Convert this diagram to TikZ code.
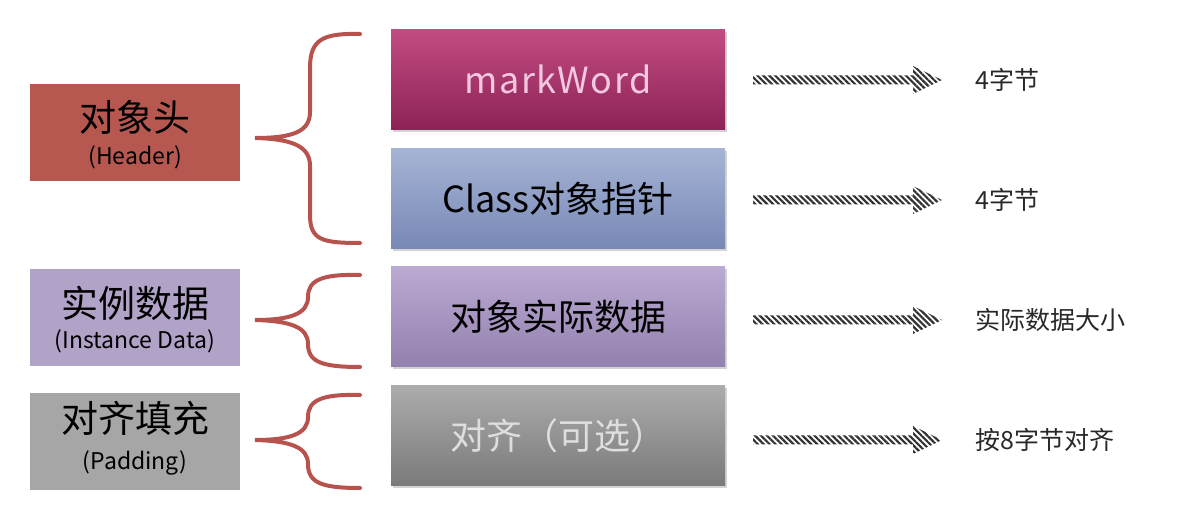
\documentclass[tikz,border=0pt]{standalone}
\usepackage{fontspec}
\setmainfont{Noto Sans CJK SC}
\usetikzlibrary{patterns.meta,shadows}
\definecolor{hdrred}{RGB}{182,88,80}
\definecolor{instpur}{RGB}{177,163,200}
\definecolor{padgray}{RGB}{166,166,166}
\definecolor{bracered}{RGB}{184,82,76}
\definecolor{mwtop}{RGB}{194,76,130}
\definecolor{mwbot}{RGB}{140,34,86}
\definecolor{mwtext}{RGB}{244,200,222}
\definecolor{clstop}{RGB}{166,180,212}
\definecolor{clsbot}{RGB}{120,136,182}
\definecolor{dattop}{RGB}{186,170,210}
\definecolor{datbot}{RGB}{146,128,174}
\definecolor{altop}{RGB}{172,172,172}
\definecolor{albot}{RGB}{122,122,122}
\definecolor{altext}{RGB}{222,222,222}
\definecolor{lbltext}{RGB}{40,40,40}
\tikzset{
  leftbox/.style={minimum width=210pt, minimum height=97pt, inner sep=0pt},
  midbox/.style={minimum width=334pt, minimum height=100pt, inner sep=0pt,
    drop shadow={shadow xshift=2pt, shadow yshift=-2.5pt, opacity=0.35}},
  bigtxt/.style={font=\fontsize{36}{40}\selectfont},
  lefttxt/.style={font=\fontsize{37}{40}\selectfont},
  smalltxt/.style={font=\fontsize{23}{26}\selectfont},
  lbl/.style={anchor=west, inner sep=0pt, text=lbltext, font=\fontsize{25}{28}\selectfont},
  bracepath/.style={draw=bracered, line width=4pt, line cap=round},
  hatcharrow/.pic={
    \fill[pattern={Lines[angle=-45,distance=4.2pt,line width=2.2pt]}, pattern color=black!80]
      (0,-4.5) -- (160,-4.5) -- (160,-14) -- (189,0) -- (160,14) -- (160,4.5) -- (0,4.5) -- cycle;
  }
}
\begin{document}
\begin{tikzpicture}[x=1pt,y=-1pt]
\useasboundingbox (0,0) rectangle (1192,518);
% left boxes
\node[leftbox, fill=hdrred] (hdr) at (135,133) {};
\node[lefttxt] (hdrA) at (135,117) {对象头};
\node[smalltxt] (hdrB) at (135,157) {(Header)};
\node[leftbox, fill=instpur] (inst) at (135,318) {};
\node[lefttxt] (instA) at (135,303) {实例数据};
\node[smalltxt] (instB) at (135,341) {(Instance Data)};
\node[leftbox, fill=padgray] (pad) at (135,442) {};
\node[lefttxt] (padA) at (135,418) {对齐填充};
\node[smalltxt] (padB) at (135,463) {(Padding)};
% middle boxes
\node[midbox, top color=mwtop, bottom color=mwbot] (mw) at (558,79.5) {};
\node[bigtxt, text=mwtext] at (mw.center) {\addfontfeatures{LetterSpace=4}markWord};
\node[midbox, top color=clstop, bottom color=clsbot] (cls) at (558,198.5) {};
\node[bigtxt] at (cls.center) {Class对象指针};
\node[midbox, top color=dattop, bottom color=datbot] (dat) at (558,317) {};
\node[bigtxt] at (dat.center) {对象实际数据};
\node[midbox, top color=altop, bottom color=albot] (al) at (558,436) {};
\node[bigtxt, text=altext] at (al.center) {对齐（可选）};
% braces
\draw[bracepath] (360,34) .. controls (322,33) and (310,40) .. (310,68) -- (310,112)
  .. controls (310,132) and (292,138) .. (255,138)
  .. controls (292,139) and (310,146) .. (310,166) -- (310,215)
  .. controls (310,240) and (322,243) .. (360,243);
\draw[bracepath] (360,275) .. controls (322,274) and (308,280) .. (308,297)
  .. controls (308,314) and (290,320) .. (255,320)
  .. controls (290,321) and (308,327) .. (308,344)
  .. controls (308,362) and (322,367) .. (360,367);
\draw[bracepath] (360,395) .. controls (322,394) and (308,400) .. (308,417)
  .. controls (308,434) and (290,440) .. (255,440)
  .. controls (290,441) and (308,447) .. (308,464)
  .. controls (308,483) and (322,488) .. (360,488);
% arrows
\pic at (753,80) {hatcharrow};
\pic at (753,200) {hatcharrow};
\pic at (753,320) {hatcharrow};
\pic at (753,440) {hatcharrow};
% labels
\node[lbl] (l1) at (975,80) {4字节};
\node[lbl] (l2) at (975,200) {4字节};
\node[lbl] (l3) at (975,320) {实际数据大小};
\node[lbl] (l4) at (975,440) {按8字节对齐};
\end{tikzpicture}
\end{document}
